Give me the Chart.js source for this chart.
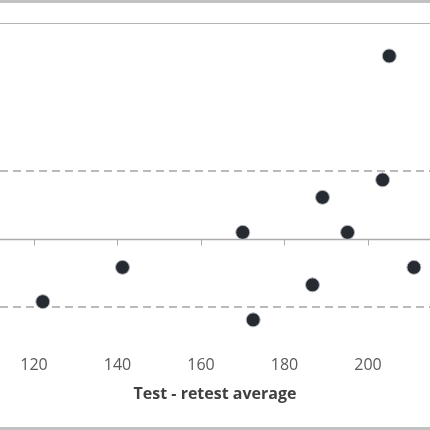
<!DOCTYPE html>
<html>
<head>
<meta charset="utf-8">
<script src="https://cdn.jsdelivr.net/npm/chart.js@4/dist/chart.umd.min.js"></script>
<style>
  html, body { margin: 0; padding: 0; background: #fff; }
  #wrap { width: 430px; height: 430px; }
</style>
</head>
<body>
<div id="wrap"><canvas id="chart" width="430" height="430"></canvas></div>
<script>
// test - retest average vs difference (Bland-Altman style)
const averages = [122.1, 141.2, 170.0, 172.5, 186.7, 189.1, 195.1, 203.5, 211.0, 205.1];
const differences = [-17.9, -8.1, 1.9, -23.1, -13.1, 11.9, 1.9, 16.9, -8.1, 52.3];
const limitUpper = 19.4;
const limitLower = -19.4;
const xTicks = [120, 140, 160, 180, 200];

const xMin = 111.86;
const xMax = 214.85;

const ctx = document.getElementById("chart").getContext("2d");

// zero line with little tick marks hanging down
const zeroAxis = {
  id: "zeroAxis",
  beforeDatasetsDraw(chart) {
    const { ctx, chartArea: { left, right }, scales: { x, y } } = chart;
    const y0 = Math.round(y.getPixelForValue(0)) + 0.5;
    ctx.save();
    ctx.strokeStyle = "#ababab";
    ctx.lineWidth = 1.5;
    ctx.beginPath();
    ctx.moveTo(left, y0);
    ctx.lineTo(right, y0);
    ctx.stroke();
    ctx.lineWidth = 1;
    xTicks.forEach((t) => {
      const px = Math.round(x.getPixelForValue(t)) + 0.5;
      ctx.beginPath();
      ctx.moveTo(px, y0);
      ctx.lineTo(px, y0 + 6);
      ctx.stroke();
    });
    ctx.restore();
  },
};

// grey rules of the surrounding page
const frame = {
  id: "frame",
  afterDraw(chart) {
    const { ctx, width, height } = chart;
    ctx.save();
    ctx.fillStyle = "#c2c2c2";
    ctx.fillRect(0, 0, width, 3);
    ctx.fillRect(0, height - 3, width, 3);
    ctx.fillStyle = "#b4b4b4";
    ctx.fillRect(0, 23, width, 1);
    ctx.restore();
  },
};

new Chart(ctx, {
  type: "scatter",
  data: {
    datasets: [
      {
        label: "differences",
        data: averages.map((a, i) => ({ x: a, y: differences[i] })),
        backgroundColor: "#262a31",
        borderColor: "#b8bcc2",
        borderWidth: 1,
        pointRadius: 7,
        order: 0,
      },
      {
        type: "line",
        label: "upper",
        data: [{ x: xMin, y: limitUpper }, { x: xMax, y: limitUpper }],
        borderColor: "#a4a4a4",
        borderWidth: 1.5,
        borderDash: [8, 5],
        pointRadius: 0,
        order: 1,
      },
      {
        type: "line",
        label: "lower",
        data: [{ x: xMin, y: limitLower }, { x: xMax, y: limitLower }],
        borderColor: "#a4a4a4",
        borderWidth: 1.5,
        borderDash: [8, 5],
        pointRadius: 0,
        order: 1,
      },
    ],
  },
  plugins: [zeroAxis, frame],
  options: {
    responsive: false,
    animation: false,
    layout: { padding: 0, autoPadding: false },
    plugins: { legend: { display: false }, tooltip: { enabled: false } },
    scales: {
      x: {
        type: "linear",
        min: xMin,
        max: xMax,
        border: { display: false },
        grid: { display: false, drawTicks: false },
        afterBuildTicks(scale) {
          scale.ticks = xTicks.map((v) => ({ value: v }));
        },
        afterFit(scale) {
          scale.height = 80;
        },
        ticks: {
          padding: 6,
          color: "#595959",
          font: { family: "Open Sans", size: 16 },
        },
        title: {
          display: true,
          text: "Test - retest average",
          color: "#404040",
          font: { family: "Open Sans", size: 16, weight: "bold" },
          padding: { top: 0, bottom: 26 },
        },
      },
      y: {
        display: false,
        min: -31.71,
        max: 68.29,
      },
    },
  },
});
</script>
</body>
</html>
